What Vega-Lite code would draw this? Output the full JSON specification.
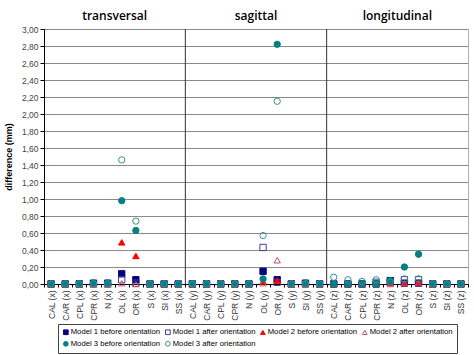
{
  "$schema": "https://vega.github.io/schema/vega-lite/v6.json",
  "autosize": {"type": "none"},
  "padding": {"left": 44, "top": 29, "right": 6, "bottom": 71},
  "width": 424,
  "height": 255,
  "background": "white",
  "layer": [
    {
      "data": {"values": [
        {"c": "CAL (x)", "Model 1 before orientation": 0, "Model 1 after orientation": 0, "Model 2 before orientation": 0, "Model 2 after orientation": 0, "Model 3 before orientation": 0, "Model 3 after orientation": 0},
        {"c": "CAR (x)", "Model 1 before orientation": 0, "Model 1 after orientation": 0, "Model 2 before orientation": 0, "Model 2 after orientation": 0, "Model 3 before orientation": 0, "Model 3 after orientation": 0},
        {"c": "CPL (x)", "Model 1 before orientation": 0, "Model 1 after orientation": 0, "Model 2 before orientation": 0, "Model 2 after orientation": 0, "Model 3 before orientation": 0, "Model 3 after orientation": 0},
        {"c": "CPR (x)", "Model 1 before orientation": 0.01, "Model 1 after orientation": 0, "Model 2 before orientation": 0, "Model 2 after orientation": 0, "Model 3 before orientation": 0.01, "Model 3 after orientation": 0},
        {"c": "N (x)", "Model 1 before orientation": 0.01, "Model 1 after orientation": 0, "Model 2 before orientation": 0, "Model 2 after orientation": 0, "Model 3 before orientation": 0.01, "Model 3 after orientation": 0},
        {"c": "OL (x)", "Model 1 before orientation": 0.12, "Model 1 after orientation": 0.05, "Model 2 before orientation": 0.49, "Model 2 after orientation": 0.01, "Model 3 before orientation": 0.98, "Model 3 after orientation": 1.46},
        {"c": "OR (x)", "Model 1 before orientation": 0.05, "Model 1 after orientation": 0.01, "Model 2 before orientation": 0.33, "Model 2 after orientation": 0, "Model 3 before orientation": 0.63, "Model 3 after orientation": 0.74},
        {"c": "S (x)", "Model 1 before orientation": 0, "Model 1 after orientation": 0, "Model 2 before orientation": 0, "Model 2 after orientation": 0, "Model 3 before orientation": 0, "Model 3 after orientation": 0},
        {"c": "SI (x)", "Model 1 before orientation": 0, "Model 1 after orientation": 0, "Model 2 before orientation": 0, "Model 2 after orientation": 0, "Model 3 before orientation": 0, "Model 3 after orientation": 0},
        {"c": "SS (x)", "Model 1 before orientation": 0, "Model 1 after orientation": 0, "Model 2 before orientation": 0, "Model 2 after orientation": 0, "Model 3 before orientation": 0, "Model 3 after orientation": 0},
        {"c": "CAL (y)", "Model 1 before orientation": 0, "Model 1 after orientation": 0, "Model 2 before orientation": 0, "Model 2 after orientation": 0, "Model 3 before orientation": 0, "Model 3 after orientation": 0},
        {"c": "CAR (y)", "Model 1 before orientation": 0, "Model 1 after orientation": 0, "Model 2 before orientation": 0, "Model 2 after orientation": 0, "Model 3 before orientation": 0, "Model 3 after orientation": 0},
        {"c": "CPL (y)", "Model 1 before orientation": 0, "Model 1 after orientation": 0, "Model 2 before orientation": 0, "Model 2 after orientation": 0, "Model 3 before orientation": 0, "Model 3 after orientation": 0},
        {"c": "CPR (y)", "Model 1 before orientation": 0, "Model 1 after orientation": 0, "Model 2 before orientation": 0, "Model 2 after orientation": 0, "Model 3 before orientation": 0, "Model 3 after orientation": 0},
        {"c": "N (y)", "Model 1 before orientation": 0, "Model 1 after orientation": 0, "Model 2 before orientation": 0, "Model 2 after orientation": 0, "Model 3 before orientation": 0, "Model 3 after orientation": 0},
        {"c": "OL (y)", "Model 1 before orientation": 0.15, "Model 1 after orientation": 0.43, "Model 2 before orientation": 0.03, "Model 2 after orientation": 0.01, "Model 3 before orientation": 0.06, "Model 3 after orientation": 0.57},
        {"c": "OR (y)", "Model 1 before orientation": 0.05, "Model 1 after orientation": 0.02, "Model 2 before orientation": 0.04, "Model 2 after orientation": 0.28, "Model 3 before orientation": 2.82, "Model 3 after orientation": 2.15},
        {"c": "S (y)", "Model 1 before orientation": 0, "Model 1 after orientation": 0, "Model 2 before orientation": 0, "Model 2 after orientation": 0, "Model 3 before orientation": 0, "Model 3 after orientation": 0},
        {"c": "SI (y)", "Model 1 before orientation": 0.01, "Model 1 after orientation": 0, "Model 2 before orientation": 0, "Model 2 after orientation": 0, "Model 3 before orientation": 0.01, "Model 3 after orientation": 0},
        {"c": "SS (y)", "Model 1 before orientation": 0, "Model 1 after orientation": 0, "Model 2 before orientation": 0, "Model 2 after orientation": 0, "Model 3 before orientation": 0, "Model 3 after orientation": 0},
        {"c": "CAL (z)", "Model 1 before orientation": 0, "Model 1 after orientation": 0, "Model 2 before orientation": 0, "Model 2 after orientation": 0, "Model 3 before orientation": 0, "Model 3 after orientation": 0.08},
        {"c": "CAR (z)", "Model 1 before orientation": 0, "Model 1 after orientation": 0, "Model 2 before orientation": 0, "Model 2 after orientation": 0, "Model 3 before orientation": 0, "Model 3 after orientation": 0.05},
        {"c": "CPL (z)", "Model 1 before orientation": 0, "Model 1 after orientation": 0, "Model 2 before orientation": 0, "Model 2 after orientation": 0, "Model 3 before orientation": 0, "Model 3 after orientation": 0.03},
        {"c": "CPR (z)", "Model 1 before orientation": 0, "Model 1 after orientation": 0.02, "Model 2 before orientation": 0, "Model 2 after orientation": 0, "Model 3 before orientation": 0, "Model 3 after orientation": 0.05},
        {"c": "N (z)", "Model 1 before orientation": 0.04, "Model 1 after orientation": 0.02, "Model 2 before orientation": 0.01, "Model 2 after orientation": 0, "Model 3 before orientation": 0.04, "Model 3 after orientation": 0.02},
        {"c": "OL (z)", "Model 1 before orientation": 0.01, "Model 1 after orientation": 0.05, "Model 2 before orientation": 0.01, "Model 2 after orientation": 0.01, "Model 3 before orientation": 0.2, "Model 3 after orientation": 0.06},
        {"c": "OR (z)", "Model 1 before orientation": 0.01, "Model 1 after orientation": 0.05, "Model 2 before orientation": 0.02, "Model 2 after orientation": 0.01, "Model 3 before orientation": 0.35, "Model 3 after orientation": 0.06},
        {"c": "S (z)", "Model 1 before orientation": 0, "Model 1 after orientation": 0, "Model 2 before orientation": 0, "Model 2 after orientation": 0, "Model 3 before orientation": 0, "Model 3 after orientation": 0},
        {"c": "SI (z)", "Model 1 before orientation": 0, "Model 1 after orientation": 0, "Model 2 before orientation": 0, "Model 2 after orientation": 0, "Model 3 before orientation": 0, "Model 3 after orientation": 0},
        {"c": "SS (z)", "Model 1 before orientation": 0, "Model 1 after orientation": 0, "Model 2 before orientation": 0, "Model 2 after orientation": 0, "Model 3 before orientation": 0, "Model 3 after orientation": 0}
      ]},
      "transform": [
        {"fold": ["Model 1 before orientation", "Model 1 after orientation", "Model 2 before orientation", "Model 2 after orientation", "Model 3 before orientation", "Model 3 after orientation"], "as": ["series", "value"]}
      ],
      "mark": {"type": "point", "size": 40, "strokeWidth": 1, "opacity": 1},
      "encoding": {
        "x": {"field": "c", "type": "nominal"},
        "y": {"field": "value", "type": "quantitative"},
        "shape": {
          "field": "series", "type": "nominal",
          "scale": {"domain": ["Model 1 before orientation", "Model 1 after orientation", "Model 2 before orientation", "Model 2 after orientation", "Model 3 before orientation", "Model 3 after orientation"],
                    "range": ["square", "square", "triangle-up", "triangle-up", "circle", "circle"]}
        },
        "stroke": {
          "field": "series", "type": "nominal",
          "scale": {"domain": ["Model 1 before orientation", "Model 1 after orientation", "Model 2 before orientation", "Model 2 after orientation", "Model 3 before orientation", "Model 3 after orientation"],
                    "range": ["#000080", "#3c3c9c", "#ff0000", "#c0506c", "#008080", "#3a8f8f"]}
        },
        "fill": {
          "field": "series", "type": "nominal",
          "scale": {"domain": ["Model 1 before orientation", "Model 1 after orientation", "Model 2 before orientation", "Model 2 after orientation", "Model 3 before orientation", "Model 3 after orientation"],
                    "range": ["#000080", "transparent", "#ff0000", "transparent", "#008080", "transparent"]}
        }
      }
    },
    {
      "data": {"values": [{"c": "CAL (y)"}, {"c": "CAL (z)"}]},
      "mark": {"type": "rule", "color": "#333333", "strokeWidth": 1},
      "encoding": {
        "x": {"field": "c", "type": "nominal", "bandPosition": 0}
      }
    },
    {
      "data": {"values": [
        {"c": "OL (x)", "t": "transversal"},
        {"c": "OL (y)", "t": "sagittal"},
        {"c": "OL (z)", "t": "longitudinal"}
      ]},
      "mark": {"type": "text", "font": "Open Sans", "fontSize": 12, "fontWeight": 600, "color": "black", "dy": -13, "align": "center", "baseline": "middle"},
      "encoding": {
        "x": {"field": "c", "type": "nominal", "bandPosition": 0},
        "y": {"datum": 3},
        "text": {"field": "t"}
      }
    }
  ],
  "encoding": {
    "x": {
      "field": "c", "type": "nominal",
      "scale": {"type": "band", "paddingInner": 0, "paddingOuter": 0,
                "domain": ["CAL (x)", "CAR (x)", "CPL (x)", "CPR (x)", "N (x)", "OL (x)", "OR (x)", "S (x)", "SI (x)", "SS (x)",
                           "CAL (y)", "CAR (y)", "CPL (y)", "CPR (y)", "N (y)", "OL (y)", "OR (y)", "S (y)", "SI (y)", "SS (y)",
                           "CAL (z)", "CAR (z)", "CPL (z)", "CPR (z)", "N (z)", "OL (z)", "OR (z)", "S (z)", "SI (z)", "SS (z)"]},
      "axis": {"title": null, "labelAngle": -90, "labelFontSize": 8.5, "labelFont": "Liberation Sans", "labelColor": "#333333", "ticks": true, "tickBand": "extent", "tickSize": 3, "tickColor": "black", "domainColor": "black", "labelPadding": 3, "grid": false}
    },
    "y": {
      "type": "quantitative",
      "scale": {"domain": [0, 3], "nice": false},
      "axis": {
        "title": "difference (mm)", "titleFont": "Liberation Sans", "titleFontSize": 9, "titleFontWeight": "bold", "titleColor": "black", "titlePadding": 8,
        "values": [0, 0.2, 0.4, 0.6, 0.8, 1, 1.2, 1.4, 1.6, 1.8, 2, 2.2, 2.4, 2.6, 2.8, 3],
        "labelExpr": "replace(format(datum.value, '.2f'), '.', ',')",
        "labelFont": "Liberation Sans", "labelFontSize": 8.5, "labelColor": "#444444",
        "domainColor": "black", "tickColor": "black", "tickSize": 4,
        "grid": true, "gridColor": "#8a8a8a", "gridWidth": 1
      }
    }
  },
  "config": {
    "view": {"stroke": "#b0b0b0", "strokeWidth": 1},
    "legend": {
      "orient": "none", "legendX": 14, "legendY": 295,
      "direction": "horizontal", "columns": 4, "title": null,
      "strokeColor": "#444444", "padding": 4, "fillColor": "white",
      "labelFont": "Liberation Sans", "labelFontSize": 7.7, "labelColor": "black",
      "symbolSize": 22, "symbolStrokeWidth": 1, "rowPadding": 2, "columnPadding": 2, "labelOffset": 1
    }
  }
}
